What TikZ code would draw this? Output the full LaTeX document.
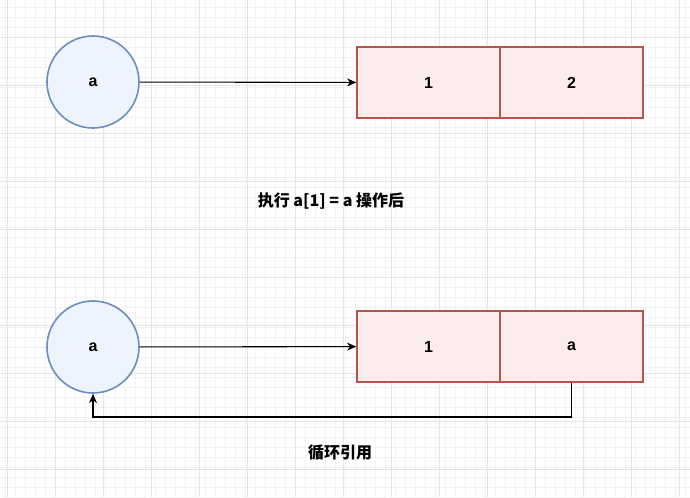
\documentclass[tikz,border=0pt]{standalone}
\usepackage{fontspec}
\setmainfont{Liberation Sans}
\newfontfamily\cjk{Noto Sans CJK SC}
\usetikzlibrary{patterns,arrows.meta}
\definecolor{cst}{HTML}{6C8EBF}
\definecolor{cfl}{HTML}{EEF4FD}
\definecolor{rst}{HTML}{B85450}
\definecolor{rfl}{HTML}{FCEDEC}
\begin{document}
\begin{tikzpicture}[x=0.75pt,y=-0.75pt,
  circ/.style={circle,draw=cst,line width=1.2pt,fill=cfl,minimum size=92*0.75pt,font=\fontsize{12}{14}\selectfont\bfseries,inner sep=0},
  cell/.style={rectangle,draw=rst,line width=1pt,fill=rfl,minimum width=143*0.75pt,minimum height=71*0.75pt,font=\fontsize{12}{14}\selectfont\bfseries,inner sep=0},
  arr/.style={-{Stealth[length=7pt,width=6pt]},line width=0.8pt},
  lbl/.style={font=\cjk\fontsize{12}{14}\selectfont\bfseries}]
\useasboundingbox (0,0) rectangle (690,497);
\fill[white] (0,0) rectangle (690,497);
\foreach \i in {0,...,69} \draw[black!5,line width=0.4pt] (\i*10+5,0) -- (\i*10+5,497);
\foreach \i in {0,...,49} \draw[black!5,line width=0.4pt] (0,\i*10+7) -- (690,\i*10+7);
\foreach \i in {0,...,14} \draw[black!10,line width=0.5pt] (\i*48+7,0) -- (\i*48+7,497);
\foreach \i in {0,...,10} \draw[black!10,line width=0.5pt] (0,\i*48+37) -- (690,\i*48+37);
\node[circ] (a1) at (93,82) {a};
\node[cell] (c11) at (428.5,82.5) {1};
\node[cell] (c12) at (571.5,82.5) {2};
\draw[arr] (a1) -- (c11);
\node[lbl] (t1) at (331,201) {执行 a[1] = a 操作后};
\node[circ] (a2) at (93,347) {a};
\node[cell] (c21) at (428.5,346.5) {1};
\node[cell] (c22) at (571.5,346.5) {a};
\draw[arr] (a2) -- (c21);
\coordinate (k) at (572,417);
\draw[arr] (c22.south) |- (k) -| (a2.south);
\node[lbl] (t2) at (340,453) {循环引用};
\end{tikzpicture}
\end{document}
